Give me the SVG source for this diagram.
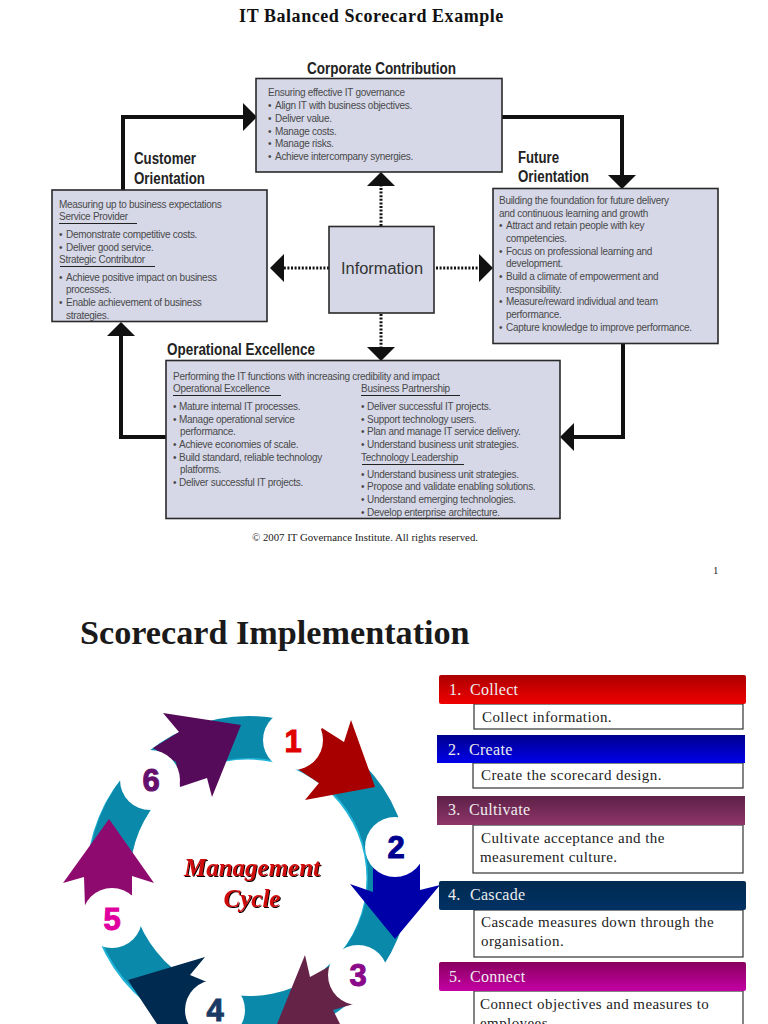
<svg xmlns="http://www.w3.org/2000/svg" width="768" height="1024" viewBox="0 0 768 1024">
<style>
.ser{font-family:"Liberation Serif","Times New Roman",serif}
.h1{font-weight:bold;font-size:18px;letter-spacing:.55px;fill:#111}
.h2{font-weight:bold;font-size:34.2px;fill:#1a1a1a}
.sm{font-size:10.8px;fill:#222}
.ttl{font-family:"Liberation Sans",Arial,sans-serif;font-weight:bold;font-size:16px;fill:#222}
.t{font-family:"Liberation Sans",Arial,sans-serif;font-size:10px;letter-spacing:-.28px;fill:#4a4a4a}
.box{fill:#d6d8e8;stroke:#2a2a2a;stroke-width:1.6}
.ul{stroke:#222;stroke-width:1.2;fill:none}
.thick{fill:none;stroke:#111;stroke-width:4;marker-end:url(#solid)}
.dot{fill:none;stroke:#111;stroke-width:3;stroke-dasharray:2 1.6;marker-end:url(#solid)}
.hd{font-family:"Liberation Serif","Times New Roman",serif;font-size:16px;fill:#eee;letter-spacing:.3px}
.bd{font-family:"Liberation Serif","Times New Roman",serif;font-size:15px;fill:#222;letter-spacing:.42px}
.cell{fill:#fff;stroke:#333;stroke-width:1.2}
.num{font-family:"Liberation Sans",Arial,sans-serif;font-weight:bold;font-size:31px;text-anchor:middle;stroke-width:1}
.hole{fill:#fff}
.mc{font-family:"Liberation Serif","Times New Roman",serif;font-style:italic;font-weight:bold;font-size:25px;fill:#d01010;text-anchor:middle;filter:url(#sh)}
</style>
<defs>
<marker id="solid" markerUnits="userSpaceOnUse" viewBox="0 0 14 28" markerWidth="14" markerHeight="28" refX="0" refY="14" orient="auto"><path d="M0,0L14,14L0,28z" fill="#111"/></marker>
<filter id="sh" x="-10%" y="-20%" width="120%" height="140%"><feDropShadow dx="1" dy="1" stdDeviation="0.4" flood-color="#000"/></filter>
<linearGradient id="g1" x1="0" y1="0" x2="0" y2="1"><stop offset="0" stop-color="#ac0000"/><stop offset="1" stop-color="#f00000"/></linearGradient>
<linearGradient id="g2" x1="0" y1="0" x2="0" y2="1"><stop offset="0" stop-color="#00008e"/><stop offset="1" stop-color="#0000ea"/></linearGradient>
<linearGradient id="g3" x1="0" y1="0" x2="0" y2="1"><stop offset="0" stop-color="#5e2147"/><stop offset="1" stop-color="#8e3569"/></linearGradient>
<linearGradient id="g4" x1="0" y1="0" x2="0" y2="1"><stop offset="0" stop-color="#002a50"/><stop offset="1" stop-color="#003264"/></linearGradient>
<linearGradient id="g5" x1="0" y1="0" x2="0" y2="1"><stop offset="0" stop-color="#88005e"/><stop offset="1" stop-color="#c400a4"/></linearGradient>
</defs>
<rect width="768" height="1024" fill="#fff"/>
<text class="ser h1" x="371.500" y="22" text-anchor="middle">IT Balanced Scorecard Example</text>
<g id="connectors">
<path class="thick" d="M123,190V117H243"/>
<path class="thick" d="M502,117H622V175"/>
<path class="thick" d="M623,344V437H574"/>
<path class="thick" d="M166,437H121V336"/>
<path class="dot" d="M381,226V186"/>
<path class="dot" d="M329,268H284"/>
<path class="dot" d="M436,268H479"/>
<path class="dot" d="M381,314V347"/>
</g>
<g id="corporate">
<text class="ttl" x="307" y="74" textLength="149" lengthAdjust="spacingAndGlyphs">Corporate Contribution</text>
<rect class="box" x="256" y="78.500" width="246" height="93.500"/>
<text class="t" x="268" y="96">Ensuring effective IT governance</text>
<text class="t" y="109"><tspan x="268">•</tspan><tspan x="275">Align IT with business objectives.</tspan></text>
<text class="t" y="122"><tspan x="268">•</tspan><tspan x="275">Deliver value.</tspan></text>
<text class="t" y="134.500"><tspan x="268">•</tspan><tspan x="275">Manage costs.</tspan></text>
<text class="t" y="147"><tspan x="268">•</tspan><tspan x="275">Manage risks.</tspan></text>
<text class="t" y="159.500"><tspan x="268">•</tspan><tspan x="275">Achieve intercompany synergies.</tspan></text>
</g>
<g id="customer">
<text class="ttl" x="134" y="164" textLength="62" lengthAdjust="spacingAndGlyphs">Customer</text>
<text class="ttl" x="134" y="184" textLength="71" lengthAdjust="spacingAndGlyphs">Orientation</text>
<rect class="box" x="52" y="190" width="215" height="131.500"/>
<text class="t" x="59" y="207.500">Measuring up to business expectations</text>
<text class="t" x="59" y="220">Service Provider</text>
<path class="ul" d="M59,223.500H137"/>
<text class="t" y="238"><tspan x="59">•</tspan><tspan x="66">Demonstrate competitive costs.</tspan></text>
<text class="t" y="250.500"><tspan x="59">•</tspan><tspan x="66">Deliver good service.</tspan></text>
<text class="t" x="59" y="263">Strategic Contributor</text>
<path class="ul" d="M60,266.500H155"/>
<text class="t" y="280.500"><tspan x="59">•</tspan><tspan x="66">Achieve positive impact on business</tspan></text>
<text class="t" x="66" y="293">processes.</text>
<text class="t" y="306"><tspan x="59">•</tspan><tspan x="66">Enable achievement of business</tspan></text>
<text class="t" x="66" y="318.500">strategies.</text>
</g>
<g id="future">
<text class="ttl" x="518" y="163" textLength="41" lengthAdjust="spacingAndGlyphs">Future</text>
<text class="ttl" x="518" y="182" textLength="71" lengthAdjust="spacingAndGlyphs">Orientation</text>
<rect class="box" x="493" y="188.500" width="225" height="155"/>
<text class="t" x="499" y="204">Building the foundation for future delivery</text>
<text class="t" x="499" y="216.500">and continuous learning and growth</text>
<text class="t" y="229"><tspan x="499">•</tspan><tspan x="506">Attract and retain people with key</tspan></text>
<text class="t" x="506" y="242">competencies.</text>
<text class="t" y="254.500"><tspan x="499">•</tspan><tspan x="506">Focus on professional learning and</tspan></text>
<text class="t" x="506" y="267">development.</text>
<text class="t" y="280"><tspan x="499">•</tspan><tspan x="506">Build a climate of empowerment and</tspan></text>
<text class="t" x="506" y="292.500">responsibility.</text>
<text class="t" y="305"><tspan x="499">•</tspan><tspan x="506">Measure/reward individual and team</tspan></text>
<text class="t" x="506" y="318">performance.</text>
<text class="t" y="330.500"><tspan x="499">•</tspan><tspan x="506">Capture knowledge to improve performance.</tspan></text>
</g>
<g id="information">
<rect class="box" x="329" y="226.500" width="105" height="86.500"/>
<text x="341" y="274" font-family="Liberation Sans, Arial, sans-serif" font-size="16" fill="#333" textLength="82" lengthAdjust="spacingAndGlyphs">Information</text>
</g>
<g id="operational">
<text class="ttl" x="167" y="355" textLength="148" lengthAdjust="spacingAndGlyphs">Operational Excellence</text>
<rect class="box" x="166" y="360.500" width="394" height="158"/>
<text class="t" x="173" y="379.500">Performing the IT functions with increasing credibility and impact</text>
<text class="t" x="173" y="392">Operational Excellence</text>
<path class="ul" d="M173,395.500H281M361,395.500H460"/>
<text class="t" x="361" y="392">Business Partnership</text>
<text class="t" y="410"><tspan x="173">•</tspan><tspan x="179">Mature internal IT processes.</tspan></text>
<text class="t" y="422.500"><tspan x="173">•</tspan><tspan x="179">Manage operational service</tspan></text>
<text class="t" x="180" y="435">performance.</text>
<text class="t" y="448"><tspan x="173">•</tspan><tspan x="179">Achieve economies of scale.</tspan></text>
<text class="t" y="460.500"><tspan x="173">•</tspan><tspan x="179">Build standard, reliable technology</tspan></text>
<text class="t" x="180" y="473">platforms.</text>
<text class="t" y="485.500"><tspan x="173">•</tspan><tspan x="179">Deliver successful IT projects.</tspan></text>
<text class="t" y="410"><tspan x="361">•</tspan><tspan x="367">Deliver successful IT projects.</tspan></text>
<text class="t" y="422.500"><tspan x="361">•</tspan><tspan x="367">Support technology users.</tspan></text>
<text class="t" y="435"><tspan x="361">•</tspan><tspan x="367">Plan and manage IT service delivery.</tspan></text>
<text class="t" y="448"><tspan x="361">•</tspan><tspan x="367">Understand business unit strategies.</tspan></text>
<text class="t" x="361" y="461">Technology Leadership</text>
<path class="ul" d="M362,464.500H464"/>
<text class="t" y="478"><tspan x="361">•</tspan><tspan x="367">Understand business unit strategies.</tspan></text>
<text class="t" y="490"><tspan x="361">•</tspan><tspan x="367">Propose and validate enabling solutions.</tspan></text>
<text class="t" y="503"><tspan x="361">•</tspan><tspan x="367">Understand emerging technologies.</tspan></text>
<text class="t" y="515.500"><tspan x="361">•</tspan><tspan x="367">Develop enterprise architecture.</tspan></text>
</g>
<text class="ser sm" x="252" y="541">© 2007 IT Governance Institute. All rights reserved.</text>
<text class="ser sm" x="713" y="574">1</text>
<text class="ser h2" x="80" y="644">Scorecard Implementation</text>
<g id="cycle">
<path fill="#22b4d8" fill-rule="evenodd" transform="translate(-1.500,1.500)" d="M88,877a161,161 0 1 0 322,0a161,161 0 1 0 -322,0zM130,877a119,119 0 1 0 238,0a119,119 0 1 0 -238,0z"/>
<path fill="#0b89aa" fill-rule="evenodd" d="M88,877a161,161 0 1 0 322,0a161,161 0 1 0 -322,0zM130,877a119,119 0 1 0 238,0a119,119 0 1 0 -238,0z"/>
<polygon fill="#a80000" points="322,728 344,742 351,720 375,787 305,800 319,783 296,768"/>
<polygon fill="#0000a8" points="373,863 373,892 350,884 395,939 440,885 420,890 420,863"/>
<polygon fill="#662348" points="305,955 310,977 332,965 357,1003 333,1010 340,1024 277,1024"/>
<polygon fill="#002a4f" points="128,980 205,957 190,975 207,982 190,1000 193,1024 157,1024"/>
<polygon fill="#8e0a6e" points="109,819 154,883 132,876 132,895 85,907 84,877 63,883"/>
<polygon fill="#560a5a" points="163,713 241,725 212,797 207,778 180,787 176,762 153,748 179,732"/>
<circle class="hole" cx="293" cy="740" r="30"/>
<circle class="hole" cx="395" cy="847" r="30"/>
<circle class="hole" cx="358" cy="975" r="30"/>
<circle class="hole" cx="215" cy="1010" r="30"/>
<circle class="hole" cx="112" cy="918" r="30"/>
<circle class="hole" cx="150" cy="780" r="30"/>
<text class="num" x="293" y="752" fill="#e00000" stroke="#e00000">1</text>
<text class="num" x="396" y="858" fill="#000090" stroke="#000090">2</text>
<text class="num" x="358" y="986" fill="#8a0a8a" stroke="#8a0a8a">3</text>
<text class="num" x="215" y="1021" fill="#1a3a66" stroke="#1a3a66">4</text>
<text class="num" x="112" y="930" fill="#e000a0" stroke="#e000a0">5</text>
<text class="num" x="151" y="791" fill="#66106e" stroke="#66106e">6</text>
<text class="mc" x="252" y="876">Management</text>
<text class="mc" x="252" y="907">Cycle</text>
</g>
<g id="step1">
<rect class="cell" x="474" y="704" width="269" height="25"/>
<rect x="439" y="675" width="307" height="29" rx="2" fill="url(#g1)"/>
<text class="hd" x="449" y="695">1.</text><text class="hd" x="470" y="695">Collect</text>
<text class="bd" x="482" y="722">Collect information.</text>
</g>
<g id="step2">
<rect class="cell" x="473" y="763" width="270" height="25"/>
<rect x="437" y="735" width="308" height="28" fill="url(#g2)"/>
<text class="hd" x="448" y="755">2.</text><text class="hd" x="469" y="755">Create</text>
<text class="bd" x="481" y="780">Create the scorecard design.</text>
</g>
<g id="step3">
<rect class="cell" x="473" y="825" width="270" height="48"/>
<rect x="437" y="796" width="308" height="29" fill="url(#g3)"/>
<text class="hd" x="448" y="815">3.</text><text class="hd" x="469" y="815">Cultivate</text>
<text class="bd" x="481" y="843">Cultivate acceptance and the</text>
<text class="bd" x="480" y="862">measurement culture.</text>
</g>
<g id="step4">
<rect class="cell" x="474" y="910" width="269" height="47"/>
<rect x="439" y="881" width="307" height="29" rx="2" fill="url(#g4)"/>
<text class="hd" x="448" y="900">4.</text><text class="hd" x="470" y="900">Cascade</text>
<text class="bd" x="481" y="927">Cascade measures down through the</text>
<text class="bd" x="481" y="946">organisation.</text>
</g>
<g id="step5">
<rect class="cell" x="474" y="991" width="269" height="50"/>
<rect x="439" y="962" width="307" height="29" rx="2" fill="url(#g5)"/>
<text class="hd" x="449" y="982">5.</text><text class="hd" x="470" y="982">Connect</text>
<text class="bd" x="480" y="1009">Connect objectives and measures to</text>
<text class="bd" x="480" y="1028">employees.</text>
</g>
</svg>
